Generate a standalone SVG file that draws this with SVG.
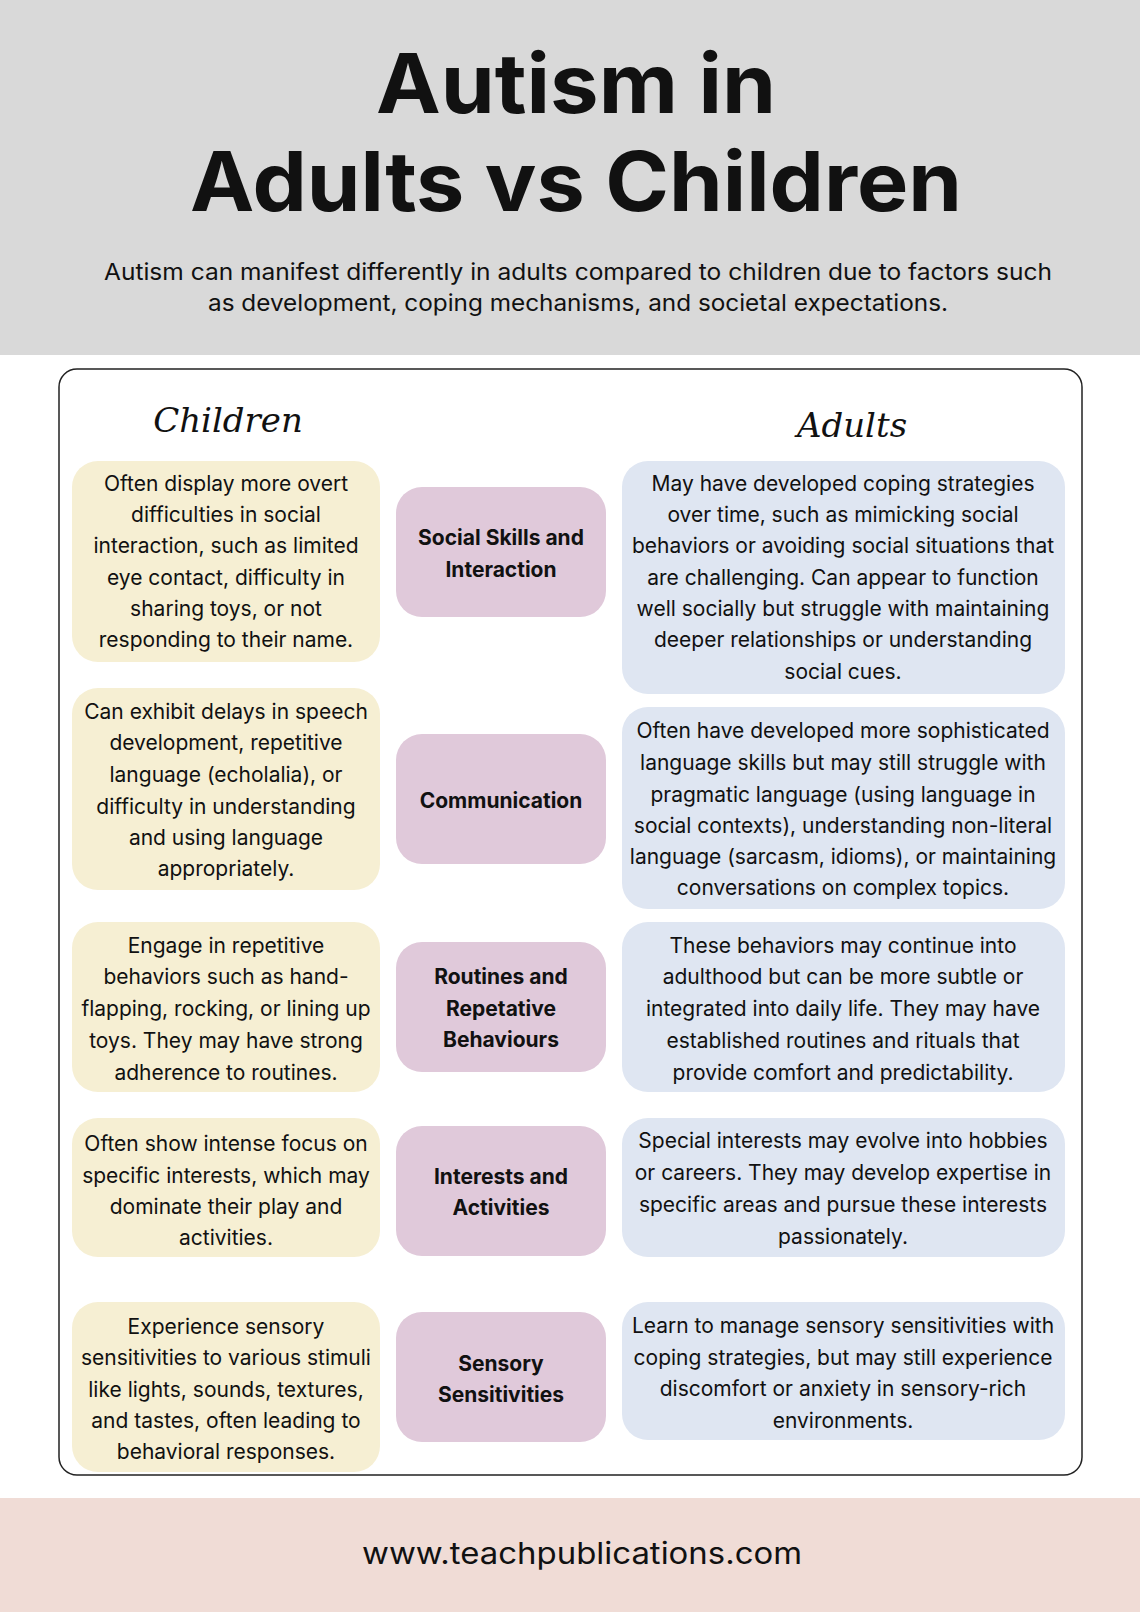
<svg xmlns="http://www.w3.org/2000/svg" width="1140" height="1612" viewBox="0 0 1140 1612">
<style>
.t{font-family:Inter,"Open Sans",sans-serif;fill:#111}
.h{font-size:82px;font-weight:700;text-anchor:middle}
.s{font-size:23px;text-anchor:middle}
.b{font-size:21px;text-anchor:middle}
.m{font-size:21px;font-weight:700;text-anchor:middle}
.c{font-family:"DejaVu Serif",serif;font-style:italic;font-size:34px;fill:#111;text-anchor:middle}
.y{fill:#f6efd3}.p{fill:#e0c9da}.u{fill:#dfe6f2}
</style>
<rect width="1140" height="355" fill="#d9d9d9"/>
<text class="t h" x="576" y="113" textLength="400" lengthAdjust="spacingAndGlyphs">Autism in</text>
<text class="t h" x="576" y="211" textLength="772" lengthAdjust="spacingAndGlyphs">Adults vs Children</text>
<text class="t s" x="578" y="280" textLength="948" lengthAdjust="spacingAndGlyphs">Autism can manifest differently in adults compared to children due to factors such</text>
<text class="t s" x="578" y="311" textLength="740" lengthAdjust="spacingAndGlyphs">as development, coping mechanisms, and societal expectations.</text>
<rect x="59" y="369" width="1023" height="1106" rx="18" fill="#fff" stroke="#222" stroke-width="1.5"/>
<text class="c" x="228" y="432">Children</text>
<text class="c" x="852" y="437">Adults</text>
<g id="row1">
<rect class="y" x="72" y="461" width="308" height="201" rx="26"/>
<text class="t b" x="226"><tspan x="226" y="491">Often display more overt</tspan><tspan x="226" y="522">difficulties in social</tspan><tspan x="226" y="553">interaction, such as limited</tspan><tspan x="226" y="585">eye contact, difficulty in</tspan><tspan x="226" y="616">sharing toys, or not</tspan><tspan x="226" y="647">responding to their name.</tspan></text>
<rect class="p" x="396" y="487" width="210" height="130" rx="26"/>
<text class="t m"><tspan x="501" y="545">Social Skills and</tspan><tspan x="501" y="577">Interaction</tspan></text>
<rect class="u" x="622" y="461" width="443" height="233" rx="26"/>
<text class="t b"><tspan x="843" y="491">May have developed coping strategies</tspan><tspan x="843" y="522">over time, such as mimicking social</tspan><tspan x="843" y="553">behaviors or avoiding social situations that</tspan><tspan x="843" y="585">are challenging. Can appear to function</tspan><tspan x="843" y="616">well socially but struggle with maintaining</tspan><tspan x="843" y="647">deeper relationships or understanding</tspan><tspan x="843" y="679">social cues.</tspan></text>
</g>
<g id="row2">
<rect class="y" x="72" y="688" width="308" height="202" rx="26"/>
<text class="t b"><tspan x="226" y="719">Can exhibit delays in speech</tspan><tspan x="226" y="750">development, repetitive</tspan><tspan x="226" y="782">language (echolalia), or</tspan><tspan x="226" y="814">difficulty in understanding</tspan><tspan x="226" y="845">and using language</tspan><tspan x="226" y="876">appropriately.</tspan></text>
<rect class="p" x="396" y="734" width="210" height="130" rx="26"/>
<text class="t m" x="501" y="808">Communication</text>
<rect class="u" x="622" y="707" width="443" height="202" rx="26"/>
<text class="t b"><tspan x="843" y="738">Often have developed more sophisticated</tspan><tspan x="843" y="770">language skills but may still struggle with</tspan><tspan x="843" y="802">pragmatic language (using language in</tspan><tspan x="843" y="833">social contexts), understanding non-literal</tspan><tspan x="843" y="864">language (sarcasm, idioms), or maintaining</tspan><tspan x="843" y="895">conversations on complex topics.</tspan></text>
</g>
<g id="row3">
<rect class="y" x="72" y="922" width="308" height="170" rx="26"/>
<text class="t b"><tspan x="226" y="953">Engage in repetitive</tspan><tspan x="226" y="984">behaviors such as hand-</tspan><tspan x="226" y="1016">flapping, rocking, or lining up</tspan><tspan x="226" y="1048">toys. They may have strong</tspan><tspan x="226" y="1080">adherence to routines.</tspan></text>
<rect class="p" x="396" y="942" width="210" height="130" rx="26"/>
<text class="t m"><tspan x="501" y="984">Routines and</tspan><tspan x="501" y="1016">Repetative</tspan><tspan x="501" y="1047">Behaviours</tspan></text>
<rect class="u" x="622" y="922" width="443" height="170" rx="26"/>
<text class="t b"><tspan x="843" y="953">These behaviors may continue into</tspan><tspan x="843" y="984">adulthood but can be more subtle or</tspan><tspan x="843" y="1016">integrated into daily life. They may have</tspan><tspan x="843" y="1048">established routines and rituals that</tspan><tspan x="843" y="1080">provide comfort and predictability.</tspan></text>
</g>
<g id="row4">
<rect class="y" x="72" y="1118" width="308" height="139" rx="26"/>
<text class="t b"><tspan x="226" y="1151">Often show intense focus on</tspan><tspan x="226" y="1183">specific interests, which may</tspan><tspan x="226" y="1214">dominate their play and</tspan><tspan x="226" y="1245">activities.</tspan></text>
<rect class="p" x="396" y="1126" width="210" height="130" rx="26"/>
<text class="t m"><tspan x="501" y="1184">Interests and</tspan><tspan x="501" y="1215">Activities</tspan></text>
<rect class="u" x="622" y="1118" width="443" height="139" rx="26"/>
<text class="t b"><tspan x="843" y="1148">Special interests may evolve into hobbies</tspan><tspan x="843" y="1180">or careers. They may develop expertise in</tspan><tspan x="843" y="1212">specific areas and pursue these interests</tspan><tspan x="843" y="1244">passionately.</tspan></text>
</g>
<g id="row5">
<rect class="y" x="72" y="1302" width="308" height="170" rx="26"/>
<text class="t b"><tspan x="226" y="1334">Experience sensory</tspan><tspan x="226" y="1365">sensitivities to various stimuli</tspan><tspan x="226" y="1397">like lights, sounds, textures,</tspan><tspan x="226" y="1428">and tastes, often leading to</tspan><tspan x="226" y="1459">behavioral responses.</tspan></text>
<rect class="p" x="396" y="1312" width="210" height="130" rx="26"/>
<text class="t m"><tspan x="501" y="1371">Sensory</tspan><tspan x="501" y="1402">Sensitivities</tspan></text>
<rect class="u" x="622" y="1302" width="443" height="138" rx="26"/>
<text class="t b"><tspan x="843" y="1333">Learn to manage sensory sensitivities with</tspan><tspan x="843" y="1365">coping strategies, but may still experience</tspan><tspan x="843" y="1396">discomfort or anxiety in sensory-rich</tspan><tspan x="843" y="1428">environments.</tspan></text>
</g>
<g id="connectors"/>
<rect y="1498" width="1140" height="114" fill="#f0dcd6"/>
<text class="t" x="582" y="1564" font-size="30" text-anchor="middle" textLength="440" lengthAdjust="spacingAndGlyphs">www.teachpublications.com</text>
</svg>
